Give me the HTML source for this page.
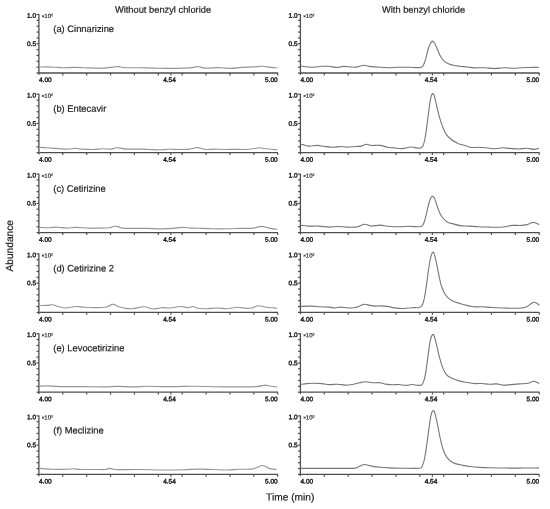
<!DOCTYPE html>
<html><head><meta charset="utf-8"><title>Chromatograms</title>
<style>
html,body{margin:0;padding:0;background:#fff;}
body{width:550px;height:509px;overflow:hidden;}
svg{display:block;}
text{font-family:"Liberation Sans",Arial,sans-serif;fill:#222;}
.ax{stroke:#4e4e4e;stroke-width:1.3;fill:none;}
.tk{stroke:#4e4e4e;stroke-width:1.2;fill:none;}
.sg{stroke:#767676;stroke-width:1.1;fill:none;stroke-linejoin:round;}
.sgl{stroke:#959595;stroke-width:1.15;fill:none;stroke-linejoin:round;}
.tl{font-size:6.5px;stroke:#222;stroke-width:0.4px;}
.ex{font-size:6px;fill:#333;stroke:#333;stroke-width:0.22px;}
.xm{font-size:3.6px;stroke-width:0.5px;}
.sup{font-size:3.6px;}
.pl{font-size:9.35px;stroke:#222;stroke-width:0.2px;}
.tt{font-size:9.3px;stroke:#222;stroke-width:0.2px;}
.al{font-size:10.2px;stroke:#222;stroke-width:0.2px;}
</style></head>
<body>
<svg width="550" height="509" viewBox="0 0 550 509">
<rect width="550" height="509" fill="#fff"/>
<text class="tt" x="163" y="12.8" text-anchor="middle" transform="rotate(0.03 163.00 12.80)">Without benzyl chloride</text>
<text class="tt" x="423.6" y="12.8" text-anchor="middle" transform="rotate(0.03 423.60 12.80)">With benzyl chloride</text>
<text class="al" transform="translate(13.0 245.8) rotate(-89.97)" text-anchor="middle">Abundance</text>
<text class="al" x="290.2" y="500.5" text-anchor="middle" transform="rotate(0.03 290.20 500.50)">Time (min)</text>
<line x1="38.90" y1="14.10" x2="38.90" y2="74.80" class="ax"/>
<line x1="38.40" y1="73.00" x2="278.00" y2="73.00" class="ax"/>
<line x1="36.50" y1="73.00" x2="38.90" y2="73.00" class="tk"/>
<line x1="36.50" y1="67.15" x2="38.90" y2="67.15" class="tk"/>
<line x1="36.50" y1="61.30" x2="38.90" y2="61.30" class="tk"/>
<line x1="36.50" y1="55.45" x2="38.90" y2="55.45" class="tk"/>
<line x1="36.50" y1="49.60" x2="38.90" y2="49.60" class="tk"/>
<line x1="36.50" y1="43.75" x2="38.90" y2="43.75" class="tk"/>
<line x1="36.50" y1="37.90" x2="38.90" y2="37.90" class="tk"/>
<line x1="36.50" y1="32.05" x2="38.90" y2="32.05" class="tk"/>
<line x1="36.50" y1="26.20" x2="38.90" y2="26.20" class="tk"/>
<line x1="36.50" y1="20.35" x2="38.90" y2="20.35" class="tk"/>
<line x1="36.50" y1="14.50" x2="38.90" y2="14.50" class="tk"/>
<line x1="62.78" y1="73.00" x2="62.78" y2="75.40" class="tk"/>
<line x1="86.66" y1="73.00" x2="86.66" y2="75.40" class="tk"/>
<line x1="110.54" y1="73.00" x2="110.54" y2="75.40" class="tk"/>
<line x1="134.42" y1="73.00" x2="134.42" y2="75.40" class="tk"/>
<line x1="158.30" y1="73.00" x2="158.30" y2="75.40" class="tk"/>
<line x1="182.18" y1="73.00" x2="182.18" y2="75.40" class="tk"/>
<line x1="206.06" y1="73.00" x2="206.06" y2="75.40" class="tk"/>
<line x1="229.94" y1="73.00" x2="229.94" y2="75.40" class="tk"/>
<line x1="253.82" y1="73.00" x2="253.82" y2="75.40" class="tk"/>
<line x1="277.70" y1="73.00" x2="277.70" y2="75.40" class="tk"/>
<line x1="170.90" y1="73.00" x2="170.90" y2="75.40" class="tk"/>
<text x="36.10" y="17.80" class="tl" text-anchor="end" transform="rotate(0.03 36.10 17.80)">1.0</text>
<text x="36.10" y="45.95" class="tl" text-anchor="end" transform="rotate(0.03 36.10 45.95)">0.5</text>
<text x="41.90" y="17.40" class="ex xm" transform="rotate(0.03 41.90 17.40)">&#215;</text>
<text x="44.30" y="18.10" class="ex" transform="rotate(0.03 44.30 18.10)">10<tspan class="sup" dy="-1.8">2</tspan></text>
<text x="39.00" y="82.10" class="tl" transform="rotate(0.03 39.00 82.10)">4.00</text>
<text x="169.50" y="82.10" class="tl" text-anchor="middle" transform="rotate(0.03 169.50 82.10)">4.54</text>
<text x="277.70" y="82.10" class="tl" text-anchor="end" transform="rotate(0.03 277.70 82.10)">5.00</text>
<text x="53.3" y="32.10" class="pl" transform="rotate(0.03 53.30 32.10)">(a) Cinnarizine</text>
<line x1="300.40" y1="14.10" x2="300.40" y2="74.80" class="ax"/>
<line x1="299.90" y1="73.00" x2="539.50" y2="73.00" class="ax"/>
<line x1="298.00" y1="73.00" x2="300.40" y2="73.00" class="tk"/>
<line x1="298.00" y1="67.15" x2="300.40" y2="67.15" class="tk"/>
<line x1="298.00" y1="61.30" x2="300.40" y2="61.30" class="tk"/>
<line x1="298.00" y1="55.45" x2="300.40" y2="55.45" class="tk"/>
<line x1="298.00" y1="49.60" x2="300.40" y2="49.60" class="tk"/>
<line x1="298.00" y1="43.75" x2="300.40" y2="43.75" class="tk"/>
<line x1="298.00" y1="37.90" x2="300.40" y2="37.90" class="tk"/>
<line x1="298.00" y1="32.05" x2="300.40" y2="32.05" class="tk"/>
<line x1="298.00" y1="26.20" x2="300.40" y2="26.20" class="tk"/>
<line x1="298.00" y1="20.35" x2="300.40" y2="20.35" class="tk"/>
<line x1="298.00" y1="14.50" x2="300.40" y2="14.50" class="tk"/>
<line x1="324.28" y1="73.00" x2="324.28" y2="75.40" class="tk"/>
<line x1="348.16" y1="73.00" x2="348.16" y2="75.40" class="tk"/>
<line x1="372.04" y1="73.00" x2="372.04" y2="75.40" class="tk"/>
<line x1="395.92" y1="73.00" x2="395.92" y2="75.40" class="tk"/>
<line x1="419.80" y1="73.00" x2="419.80" y2="75.40" class="tk"/>
<line x1="443.68" y1="73.00" x2="443.68" y2="75.40" class="tk"/>
<line x1="467.56" y1="73.00" x2="467.56" y2="75.40" class="tk"/>
<line x1="491.44" y1="73.00" x2="491.44" y2="75.40" class="tk"/>
<line x1="515.32" y1="73.00" x2="515.32" y2="75.40" class="tk"/>
<line x1="539.20" y1="73.00" x2="539.20" y2="75.40" class="tk"/>
<line x1="432.40" y1="73.00" x2="432.40" y2="75.40" class="tk"/>
<text x="297.60" y="17.80" class="tl" text-anchor="end" transform="rotate(0.03 297.60 17.80)">1.0</text>
<text x="297.60" y="45.95" class="tl" text-anchor="end" transform="rotate(0.03 297.60 45.95)">0.5</text>
<text x="303.40" y="17.40" class="ex xm" transform="rotate(0.03 303.40 17.40)">&#215;</text>
<text x="305.80" y="18.10" class="ex" transform="rotate(0.03 305.80 18.10)">10<tspan class="sup" dy="-1.8">2</tspan></text>
<text x="300.50" y="82.10" class="tl" transform="rotate(0.03 300.50 82.10)">4.00</text>
<text x="431.00" y="82.10" class="tl" text-anchor="middle" transform="rotate(0.03 431.00 82.10)">4.54</text>
<text x="539.20" y="82.10" class="tl" text-anchor="end" transform="rotate(0.03 539.20 82.10)">5.00</text>
<path class="sgl" d="M39.50 67.10 C40.70 67.07 44.03 66.88 46.70 66.90 C49.37 66.92 52.83 67.07 55.50 67.20 C58.17 67.33 59.55 67.67 62.70 67.70 C65.85 67.73 70.77 67.40 74.40 67.40 C78.03 67.40 80.87 67.58 84.50 67.70 C88.13 67.82 93.03 68.03 96.20 68.10 C99.37 68.17 100.60 68.27 103.50 68.10 C106.40 67.93 111.18 67.35 113.60 67.10 C116.02 66.85 116.05 66.50 118.00 66.60 C119.95 66.70 121.67 67.50 125.30 67.70 C128.93 67.90 134.95 67.73 139.80 67.80 C144.65 67.87 149.55 68.00 154.40 68.10 C159.25 68.20 164.05 68.40 168.90 68.40 C173.75 68.40 179.38 68.27 183.50 68.10 C187.62 67.93 191.18 67.67 193.60 67.40 C196.02 67.13 196.05 66.38 198.00 66.50 C199.95 66.62 201.67 67.90 205.30 68.10 C208.93 68.30 215.43 67.65 219.80 67.70 C224.17 67.75 227.87 68.45 231.50 68.40 C235.13 68.35 237.97 67.65 241.60 67.40 C245.23 67.15 249.90 67.08 253.30 66.90 C256.70 66.72 259.10 66.22 262.00 66.30 C264.90 66.38 268.15 67.15 270.70 67.40 C273.25 67.65 276.20 67.73 277.30 67.80"/>
<path class="sg" d="M300.50 66.00 C302.35 66.20 308.05 67.15 311.60 67.20 C315.15 67.25 318.90 66.45 321.80 66.30 C324.70 66.15 326.47 66.10 329.00 66.30 C331.53 66.50 334.57 67.48 337.00 67.50 C339.43 67.52 340.80 66.45 343.60 66.40 C346.40 66.35 351.13 67.22 353.80 67.20 C356.47 67.18 357.90 66.62 359.60 66.30 C361.30 65.98 362.30 65.28 364.00 65.30 C365.70 65.32 367.13 66.07 369.80 66.40 C372.47 66.73 376.85 67.08 380.00 67.30 C383.15 67.52 385.78 67.70 388.70 67.70 C391.62 67.70 394.10 67.37 397.50 67.30 C400.90 67.23 405.95 67.25 409.10 67.30 C412.25 67.35 414.33 67.60 416.40 67.60 C418.47 67.60 420.30 67.77 421.50 67.30 C422.70 66.83 422.88 66.30 423.60 64.80 C424.32 63.30 425.07 60.85 425.80 58.30 C426.53 55.75 427.27 51.93 428.00 49.50 C428.73 47.07 429.47 45.10 430.20 43.70 C430.93 42.30 431.68 41.22 432.40 41.10 C433.12 40.98 433.65 41.60 434.50 43.00 C435.35 44.40 436.52 47.32 437.50 49.50 C438.48 51.68 439.32 54.15 440.40 56.10 C441.48 58.05 442.67 59.92 444.00 61.20 C445.33 62.48 446.70 63.08 448.40 63.80 C450.10 64.52 452.27 65.08 454.20 65.50 C456.13 65.92 457.82 66.05 460.00 66.30 C462.18 66.55 464.88 66.73 467.30 67.00 C469.72 67.27 471.60 67.78 474.50 67.90 C477.40 68.02 481.30 67.58 484.70 67.70 C488.10 67.82 491.75 68.60 494.90 68.60 C498.05 68.60 500.45 67.77 503.60 67.70 C506.75 67.63 510.88 68.20 513.80 68.20 C516.72 68.20 518.43 67.82 521.10 67.70 C523.77 67.58 526.82 67.58 529.80 67.50 C532.78 67.42 537.47 67.25 539.00 67.20"/>
<line x1="38.90" y1="93.80" x2="38.90" y2="154.50" class="ax"/>
<line x1="38.40" y1="152.70" x2="278.00" y2="152.70" class="ax"/>
<line x1="36.50" y1="152.70" x2="38.90" y2="152.70" class="tk"/>
<line x1="36.50" y1="146.85" x2="38.90" y2="146.85" class="tk"/>
<line x1="36.50" y1="141.00" x2="38.90" y2="141.00" class="tk"/>
<line x1="36.50" y1="135.15" x2="38.90" y2="135.15" class="tk"/>
<line x1="36.50" y1="129.30" x2="38.90" y2="129.30" class="tk"/>
<line x1="36.50" y1="123.45" x2="38.90" y2="123.45" class="tk"/>
<line x1="36.50" y1="117.60" x2="38.90" y2="117.60" class="tk"/>
<line x1="36.50" y1="111.75" x2="38.90" y2="111.75" class="tk"/>
<line x1="36.50" y1="105.90" x2="38.90" y2="105.90" class="tk"/>
<line x1="36.50" y1="100.05" x2="38.90" y2="100.05" class="tk"/>
<line x1="36.50" y1="94.20" x2="38.90" y2="94.20" class="tk"/>
<line x1="62.78" y1="152.70" x2="62.78" y2="155.10" class="tk"/>
<line x1="86.66" y1="152.70" x2="86.66" y2="155.10" class="tk"/>
<line x1="110.54" y1="152.70" x2="110.54" y2="155.10" class="tk"/>
<line x1="134.42" y1="152.70" x2="134.42" y2="155.10" class="tk"/>
<line x1="158.30" y1="152.70" x2="158.30" y2="155.10" class="tk"/>
<line x1="182.18" y1="152.70" x2="182.18" y2="155.10" class="tk"/>
<line x1="206.06" y1="152.70" x2="206.06" y2="155.10" class="tk"/>
<line x1="229.94" y1="152.70" x2="229.94" y2="155.10" class="tk"/>
<line x1="253.82" y1="152.70" x2="253.82" y2="155.10" class="tk"/>
<line x1="277.70" y1="152.70" x2="277.70" y2="155.10" class="tk"/>
<line x1="170.90" y1="152.70" x2="170.90" y2="155.10" class="tk"/>
<text x="36.10" y="97.50" class="tl" text-anchor="end" transform="rotate(0.03 36.10 97.50)">1.0</text>
<text x="36.10" y="125.65" class="tl" text-anchor="end" transform="rotate(0.03 36.10 125.65)">0.5</text>
<text x="41.90" y="97.10" class="ex xm" transform="rotate(0.03 41.90 97.10)">&#215;</text>
<text x="44.30" y="97.80" class="ex" transform="rotate(0.03 44.30 97.80)">10<tspan class="sup" dy="-1.8">2</tspan></text>
<text x="39.00" y="161.80" class="tl" transform="rotate(0.03 39.00 161.80)">4.00</text>
<text x="169.50" y="161.80" class="tl" text-anchor="middle" transform="rotate(0.03 169.50 161.80)">4.54</text>
<text x="277.70" y="161.80" class="tl" text-anchor="end" transform="rotate(0.03 277.70 161.80)">5.00</text>
<text x="53.3" y="111.80" class="pl" transform="rotate(0.03 53.30 111.80)">(b) Entecavir</text>
<line x1="300.40" y1="93.80" x2="300.40" y2="154.50" class="ax"/>
<line x1="299.90" y1="152.70" x2="539.50" y2="152.70" class="ax"/>
<line x1="298.00" y1="152.70" x2="300.40" y2="152.70" class="tk"/>
<line x1="298.00" y1="146.85" x2="300.40" y2="146.85" class="tk"/>
<line x1="298.00" y1="141.00" x2="300.40" y2="141.00" class="tk"/>
<line x1="298.00" y1="135.15" x2="300.40" y2="135.15" class="tk"/>
<line x1="298.00" y1="129.30" x2="300.40" y2="129.30" class="tk"/>
<line x1="298.00" y1="123.45" x2="300.40" y2="123.45" class="tk"/>
<line x1="298.00" y1="117.60" x2="300.40" y2="117.60" class="tk"/>
<line x1="298.00" y1="111.75" x2="300.40" y2="111.75" class="tk"/>
<line x1="298.00" y1="105.90" x2="300.40" y2="105.90" class="tk"/>
<line x1="298.00" y1="100.05" x2="300.40" y2="100.05" class="tk"/>
<line x1="298.00" y1="94.20" x2="300.40" y2="94.20" class="tk"/>
<line x1="324.28" y1="152.70" x2="324.28" y2="155.10" class="tk"/>
<line x1="348.16" y1="152.70" x2="348.16" y2="155.10" class="tk"/>
<line x1="372.04" y1="152.70" x2="372.04" y2="155.10" class="tk"/>
<line x1="395.92" y1="152.70" x2="395.92" y2="155.10" class="tk"/>
<line x1="419.80" y1="152.70" x2="419.80" y2="155.10" class="tk"/>
<line x1="443.68" y1="152.70" x2="443.68" y2="155.10" class="tk"/>
<line x1="467.56" y1="152.70" x2="467.56" y2="155.10" class="tk"/>
<line x1="491.44" y1="152.70" x2="491.44" y2="155.10" class="tk"/>
<line x1="515.32" y1="152.70" x2="515.32" y2="155.10" class="tk"/>
<line x1="539.20" y1="152.70" x2="539.20" y2="155.10" class="tk"/>
<line x1="432.40" y1="152.70" x2="432.40" y2="155.10" class="tk"/>
<text x="297.60" y="97.50" class="tl" text-anchor="end" transform="rotate(0.03 297.60 97.50)">1.0</text>
<text x="297.60" y="125.65" class="tl" text-anchor="end" transform="rotate(0.03 297.60 125.65)">0.5</text>
<text x="303.40" y="97.10" class="ex xm" transform="rotate(0.03 303.40 97.10)">&#215;</text>
<text x="305.80" y="97.80" class="ex" transform="rotate(0.03 305.80 97.80)">10<tspan class="sup" dy="-1.8">2</tspan></text>
<text x="300.50" y="161.80" class="tl" transform="rotate(0.03 300.50 161.80)">4.00</text>
<text x="431.00" y="161.80" class="tl" text-anchor="middle" transform="rotate(0.03 431.00 161.80)">4.54</text>
<text x="539.20" y="161.80" class="tl" text-anchor="end" transform="rotate(0.03 539.20 161.80)">5.00</text>
<path class="sgl" d="M39.50 147.40 C40.70 147.47 44.03 147.63 46.70 147.80 C49.37 147.97 52.10 148.18 55.50 148.40 C58.90 148.62 63.72 149.10 67.10 149.10 C70.48 149.10 73.38 148.40 75.80 148.40 C78.22 148.40 78.68 148.92 81.60 149.10 C84.52 149.28 89.90 149.55 93.30 149.50 C96.70 149.45 99.10 148.87 102.00 148.80 C104.90 148.73 108.28 149.27 110.70 149.10 C113.12 148.93 115.28 148.02 116.50 147.80 C117.72 147.58 116.30 147.58 118.00 147.80 C119.70 148.02 123.07 148.88 126.70 149.10 C130.33 149.32 135.92 149.03 139.80 149.10 C143.68 149.17 146.85 149.38 150.00 149.50 C153.15 149.62 155.55 149.83 158.70 149.80 C161.85 149.77 165.50 149.35 168.90 149.30 C172.30 149.25 175.70 149.53 179.10 149.50 C182.50 149.47 186.63 149.38 189.30 149.10 C191.97 148.82 193.65 148.05 195.10 147.80 C196.55 147.55 196.30 147.32 198.00 147.60 C199.70 147.88 202.63 149.25 205.30 149.50 C207.97 149.75 210.85 149.10 214.00 149.10 C217.15 149.10 220.80 149.47 224.20 149.50 C227.60 149.53 231.02 149.30 234.40 149.30 C237.78 149.30 241.35 149.58 244.50 149.50 C247.65 149.42 250.87 149.10 253.30 148.80 C255.73 148.50 256.92 147.70 259.10 147.70 C261.28 147.70 263.37 148.45 266.40 148.80 C269.43 149.15 275.48 149.63 277.30 149.80"/>
<path class="sg" d="M300.50 144.90 C300.90 144.85 301.53 144.40 302.90 144.60 C304.27 144.80 306.27 145.97 308.70 146.10 C311.13 146.23 314.83 145.33 317.50 145.40 C320.17 145.47 322.03 146.18 324.70 146.50 C327.37 146.82 330.83 147.30 333.50 147.30 C336.17 147.30 338.53 146.53 340.70 146.50 C342.87 146.47 344.07 147.10 346.50 147.10 C348.93 147.10 352.87 146.67 355.30 146.50 C357.73 146.33 359.28 146.48 361.10 146.10 C362.92 145.72 364.50 144.32 366.20 144.20 C367.90 144.08 369.00 145.20 371.30 145.40 C373.60 145.60 377.33 145.10 380.00 145.40 C382.67 145.70 384.88 146.78 387.30 147.20 C389.72 147.62 392.08 147.67 394.50 147.90 C396.92 148.13 399.13 148.75 401.80 148.60 C404.47 148.45 408.32 147.17 410.50 147.00 C412.68 146.83 413.32 147.40 414.90 147.60 C416.48 147.80 418.67 148.47 420.00 148.20 C421.33 147.93 422.05 147.70 422.90 146.00 C423.75 144.30 424.45 141.27 425.10 138.00 C425.75 134.73 426.20 130.77 426.80 126.40 C427.40 122.03 428.07 116.42 428.70 111.80 C429.33 107.18 429.93 101.73 430.60 98.70 C431.27 95.67 432.05 93.97 432.70 93.60 C433.35 93.23 433.83 94.43 434.50 96.50 C435.17 98.57 435.85 102.48 436.70 106.00 C437.55 109.52 438.63 114.20 439.60 117.60 C440.57 121.00 441.40 123.60 442.50 126.40 C443.60 129.20 444.73 132.22 446.20 134.40 C447.67 136.58 449.48 138.05 451.30 139.50 C453.12 140.95 455.65 142.32 457.10 143.10 C458.55 143.88 458.55 143.75 460.00 144.20 C461.45 144.65 463.87 145.25 465.80 145.80 C467.73 146.35 469.42 147.25 471.60 147.50 C473.78 147.75 476.47 147.25 478.90 147.30 C481.33 147.35 483.53 147.57 486.20 147.80 C488.87 148.03 492.23 148.70 494.90 148.70 C497.57 148.70 499.77 147.85 502.20 147.80 C504.63 147.75 506.83 148.20 509.50 148.40 C512.17 148.60 515.30 149.02 518.20 149.00 C521.10 148.98 524.23 148.23 526.90 148.30 C529.57 148.37 532.18 149.40 534.20 149.40 C536.22 149.40 538.20 148.48 539.00 148.30"/>
<line x1="38.90" y1="173.70" x2="38.90" y2="234.40" class="ax"/>
<line x1="38.40" y1="232.60" x2="278.00" y2="232.60" class="ax"/>
<line x1="36.50" y1="232.60" x2="38.90" y2="232.60" class="tk"/>
<line x1="36.50" y1="226.75" x2="38.90" y2="226.75" class="tk"/>
<line x1="36.50" y1="220.90" x2="38.90" y2="220.90" class="tk"/>
<line x1="36.50" y1="215.05" x2="38.90" y2="215.05" class="tk"/>
<line x1="36.50" y1="209.20" x2="38.90" y2="209.20" class="tk"/>
<line x1="36.50" y1="203.35" x2="38.90" y2="203.35" class="tk"/>
<line x1="36.50" y1="197.50" x2="38.90" y2="197.50" class="tk"/>
<line x1="36.50" y1="191.65" x2="38.90" y2="191.65" class="tk"/>
<line x1="36.50" y1="185.80" x2="38.90" y2="185.80" class="tk"/>
<line x1="36.50" y1="179.95" x2="38.90" y2="179.95" class="tk"/>
<line x1="36.50" y1="174.10" x2="38.90" y2="174.10" class="tk"/>
<line x1="62.78" y1="232.60" x2="62.78" y2="235.00" class="tk"/>
<line x1="86.66" y1="232.60" x2="86.66" y2="235.00" class="tk"/>
<line x1="110.54" y1="232.60" x2="110.54" y2="235.00" class="tk"/>
<line x1="134.42" y1="232.60" x2="134.42" y2="235.00" class="tk"/>
<line x1="158.30" y1="232.60" x2="158.30" y2="235.00" class="tk"/>
<line x1="182.18" y1="232.60" x2="182.18" y2="235.00" class="tk"/>
<line x1="206.06" y1="232.60" x2="206.06" y2="235.00" class="tk"/>
<line x1="229.94" y1="232.60" x2="229.94" y2="235.00" class="tk"/>
<line x1="253.82" y1="232.60" x2="253.82" y2="235.00" class="tk"/>
<line x1="277.70" y1="232.60" x2="277.70" y2="235.00" class="tk"/>
<line x1="170.90" y1="232.60" x2="170.90" y2="235.00" class="tk"/>
<text x="36.10" y="177.40" class="tl" text-anchor="end" transform="rotate(0.03 36.10 177.40)">1.0</text>
<text x="36.10" y="205.55" class="tl" text-anchor="end" transform="rotate(0.03 36.10 205.55)">0.5</text>
<text x="41.90" y="177.00" class="ex xm" transform="rotate(0.03 41.90 177.00)">&#215;</text>
<text x="44.30" y="177.70" class="ex" transform="rotate(0.03 44.30 177.70)">10<tspan class="sup" dy="-1.8">2</tspan></text>
<text x="39.00" y="241.70" class="tl" transform="rotate(0.03 39.00 241.70)">4.00</text>
<text x="169.50" y="241.70" class="tl" text-anchor="middle" transform="rotate(0.03 169.50 241.70)">4.54</text>
<text x="277.70" y="241.70" class="tl" text-anchor="end" transform="rotate(0.03 277.70 241.70)">5.00</text>
<text x="53.3" y="191.70" class="pl" transform="rotate(0.03 53.30 191.70)">(c) Cetirizine</text>
<line x1="300.40" y1="173.70" x2="300.40" y2="234.40" class="ax"/>
<line x1="299.90" y1="232.60" x2="539.50" y2="232.60" class="ax"/>
<line x1="298.00" y1="232.60" x2="300.40" y2="232.60" class="tk"/>
<line x1="298.00" y1="226.75" x2="300.40" y2="226.75" class="tk"/>
<line x1="298.00" y1="220.90" x2="300.40" y2="220.90" class="tk"/>
<line x1="298.00" y1="215.05" x2="300.40" y2="215.05" class="tk"/>
<line x1="298.00" y1="209.20" x2="300.40" y2="209.20" class="tk"/>
<line x1="298.00" y1="203.35" x2="300.40" y2="203.35" class="tk"/>
<line x1="298.00" y1="197.50" x2="300.40" y2="197.50" class="tk"/>
<line x1="298.00" y1="191.65" x2="300.40" y2="191.65" class="tk"/>
<line x1="298.00" y1="185.80" x2="300.40" y2="185.80" class="tk"/>
<line x1="298.00" y1="179.95" x2="300.40" y2="179.95" class="tk"/>
<line x1="298.00" y1="174.10" x2="300.40" y2="174.10" class="tk"/>
<line x1="324.28" y1="232.60" x2="324.28" y2="235.00" class="tk"/>
<line x1="348.16" y1="232.60" x2="348.16" y2="235.00" class="tk"/>
<line x1="372.04" y1="232.60" x2="372.04" y2="235.00" class="tk"/>
<line x1="395.92" y1="232.60" x2="395.92" y2="235.00" class="tk"/>
<line x1="419.80" y1="232.60" x2="419.80" y2="235.00" class="tk"/>
<line x1="443.68" y1="232.60" x2="443.68" y2="235.00" class="tk"/>
<line x1="467.56" y1="232.60" x2="467.56" y2="235.00" class="tk"/>
<line x1="491.44" y1="232.60" x2="491.44" y2="235.00" class="tk"/>
<line x1="515.32" y1="232.60" x2="515.32" y2="235.00" class="tk"/>
<line x1="539.20" y1="232.60" x2="539.20" y2="235.00" class="tk"/>
<line x1="432.40" y1="232.60" x2="432.40" y2="235.00" class="tk"/>
<text x="297.60" y="177.40" class="tl" text-anchor="end" transform="rotate(0.03 297.60 177.40)">1.0</text>
<text x="297.60" y="205.55" class="tl" text-anchor="end" transform="rotate(0.03 297.60 205.55)">0.5</text>
<text x="303.40" y="177.00" class="ex xm" transform="rotate(0.03 303.40 177.00)">&#215;</text>
<text x="305.80" y="177.70" class="ex" transform="rotate(0.03 305.80 177.70)">10<tspan class="sup" dy="-1.8">2</tspan></text>
<text x="300.50" y="241.70" class="tl" transform="rotate(0.03 300.50 241.70)">4.00</text>
<text x="431.00" y="241.70" class="tl" text-anchor="middle" transform="rotate(0.03 431.00 241.70)">4.54</text>
<text x="539.20" y="241.70" class="tl" text-anchor="end" transform="rotate(0.03 539.20 241.70)">5.00</text>
<path class="sgl" d="M39.50 227.40 C41.18 227.45 46.70 227.73 49.60 227.70 C52.50 227.67 53.98 227.13 56.90 227.20 C59.82 227.27 63.95 228.07 67.10 228.10 C70.25 228.13 72.17 227.40 75.80 227.40 C79.43 227.40 85.02 227.98 88.90 228.10 C92.78 228.22 95.70 228.15 99.10 228.10 C102.50 228.05 106.88 228.10 109.30 227.80 C111.72 227.50 112.15 226.50 113.60 226.30 C115.05 226.10 116.53 226.30 118.00 226.60 C119.47 226.90 119.98 227.80 122.40 228.10 C124.82 228.40 128.38 228.35 132.50 228.40 C136.62 228.45 142.25 228.33 147.10 228.40 C151.95 228.47 157.23 228.80 161.60 228.80 C165.97 228.80 169.90 228.63 173.30 228.40 C176.70 228.17 179.10 227.45 182.00 227.40 C184.90 227.35 188.03 227.97 190.70 228.10 C193.37 228.23 194.37 228.08 198.00 228.20 C201.63 228.32 207.65 228.70 212.50 228.80 C217.35 228.90 222.25 228.87 227.10 228.80 C231.95 228.73 237.23 228.52 241.60 228.40 C245.97 228.28 250.02 228.45 253.30 228.10 C256.58 227.75 258.63 226.30 261.30 226.30 C263.97 226.30 266.63 227.60 269.30 228.10 C271.97 228.60 275.97 229.10 277.30 229.30"/>
<path class="sg" d="M300.50 225.40 C301.87 225.52 305.63 225.98 308.70 226.10 C311.77 226.22 315.50 225.93 318.90 226.10 C322.30 226.27 325.95 227.03 329.10 227.10 C332.25 227.17 334.90 226.50 337.80 226.50 C340.70 226.50 343.58 227.00 346.50 227.10 C349.42 227.20 353.12 227.27 355.30 227.10 C357.48 226.93 358.03 226.57 359.60 226.10 C361.17 225.63 362.75 224.30 364.70 224.30 C366.65 224.30 368.75 225.97 371.30 226.10 C373.85 226.23 377.10 225.07 380.00 225.10 C382.90 225.13 385.55 226.02 388.70 226.30 C391.85 226.58 395.50 226.80 398.90 226.80 C402.30 226.80 405.70 226.30 409.10 226.30 C412.50 226.30 417.12 226.88 419.30 226.80 C421.48 226.72 421.35 226.68 422.20 225.80 C423.05 224.92 423.68 223.55 424.40 221.50 C425.12 219.45 425.78 216.42 426.50 213.50 C427.22 210.58 428.02 206.55 428.70 204.00 C429.38 201.45 429.98 199.48 430.60 198.20 C431.22 196.92 431.75 196.30 432.40 196.30 C433.05 196.30 433.78 196.80 434.50 198.20 C435.22 199.60 435.85 202.28 436.70 204.70 C437.55 207.12 438.50 210.40 439.60 212.70 C440.70 215.00 441.97 216.92 443.30 218.50 C444.63 220.08 445.78 221.27 447.60 222.20 C449.42 223.13 452.13 223.53 454.20 224.10 C456.27 224.67 457.58 225.27 460.00 225.60 C462.42 225.93 465.55 225.90 468.70 226.10 C471.85 226.30 475.50 226.63 478.90 226.80 C482.30 226.97 485.47 227.02 489.10 227.10 C492.73 227.18 497.80 227.40 500.70 227.30 C503.60 227.20 504.55 226.82 506.50 226.50 C508.45 226.18 509.97 225.58 512.40 225.40 C514.83 225.22 518.68 225.53 521.10 225.40 C523.52 225.27 524.97 225.08 526.90 224.60 C528.83 224.12 531.25 222.78 532.70 222.50 C534.15 222.22 534.50 222.55 535.60 222.90 C536.70 223.25 538.68 224.32 539.30 224.60"/>
<line x1="38.90" y1="253.50" x2="38.90" y2="314.20" class="ax"/>
<line x1="38.40" y1="312.40" x2="278.00" y2="312.40" class="ax"/>
<line x1="36.50" y1="312.40" x2="38.90" y2="312.40" class="tk"/>
<line x1="36.50" y1="306.55" x2="38.90" y2="306.55" class="tk"/>
<line x1="36.50" y1="300.70" x2="38.90" y2="300.70" class="tk"/>
<line x1="36.50" y1="294.85" x2="38.90" y2="294.85" class="tk"/>
<line x1="36.50" y1="289.00" x2="38.90" y2="289.00" class="tk"/>
<line x1="36.50" y1="283.15" x2="38.90" y2="283.15" class="tk"/>
<line x1="36.50" y1="277.30" x2="38.90" y2="277.30" class="tk"/>
<line x1="36.50" y1="271.45" x2="38.90" y2="271.45" class="tk"/>
<line x1="36.50" y1="265.60" x2="38.90" y2="265.60" class="tk"/>
<line x1="36.50" y1="259.75" x2="38.90" y2="259.75" class="tk"/>
<line x1="36.50" y1="253.90" x2="38.90" y2="253.90" class="tk"/>
<line x1="62.78" y1="312.40" x2="62.78" y2="314.80" class="tk"/>
<line x1="86.66" y1="312.40" x2="86.66" y2="314.80" class="tk"/>
<line x1="110.54" y1="312.40" x2="110.54" y2="314.80" class="tk"/>
<line x1="134.42" y1="312.40" x2="134.42" y2="314.80" class="tk"/>
<line x1="158.30" y1="312.40" x2="158.30" y2="314.80" class="tk"/>
<line x1="182.18" y1="312.40" x2="182.18" y2="314.80" class="tk"/>
<line x1="206.06" y1="312.40" x2="206.06" y2="314.80" class="tk"/>
<line x1="229.94" y1="312.40" x2="229.94" y2="314.80" class="tk"/>
<line x1="253.82" y1="312.40" x2="253.82" y2="314.80" class="tk"/>
<line x1="277.70" y1="312.40" x2="277.70" y2="314.80" class="tk"/>
<line x1="170.90" y1="312.40" x2="170.90" y2="314.80" class="tk"/>
<text x="36.10" y="257.20" class="tl" text-anchor="end" transform="rotate(0.03 36.10 257.20)">1.0</text>
<text x="36.10" y="285.35" class="tl" text-anchor="end" transform="rotate(0.03 36.10 285.35)">0.5</text>
<text x="41.90" y="256.80" class="ex xm" transform="rotate(0.03 41.90 256.80)">&#215;</text>
<text x="44.30" y="257.50" class="ex" transform="rotate(0.03 44.30 257.50)">10<tspan class="sup" dy="-1.8">2</tspan></text>
<text x="39.00" y="321.50" class="tl" transform="rotate(0.03 39.00 321.50)">4.00</text>
<text x="169.50" y="321.50" class="tl" text-anchor="middle" transform="rotate(0.03 169.50 321.50)">4.54</text>
<text x="277.70" y="321.50" class="tl" text-anchor="end" transform="rotate(0.03 277.70 321.50)">5.00</text>
<text x="53.3" y="271.50" class="pl" transform="rotate(0.03 53.30 271.50)">(d) Cetirizine 2</text>
<line x1="300.40" y1="253.50" x2="300.40" y2="314.20" class="ax"/>
<line x1="299.90" y1="312.40" x2="539.50" y2="312.40" class="ax"/>
<line x1="298.00" y1="312.40" x2="300.40" y2="312.40" class="tk"/>
<line x1="298.00" y1="306.55" x2="300.40" y2="306.55" class="tk"/>
<line x1="298.00" y1="300.70" x2="300.40" y2="300.70" class="tk"/>
<line x1="298.00" y1="294.85" x2="300.40" y2="294.85" class="tk"/>
<line x1="298.00" y1="289.00" x2="300.40" y2="289.00" class="tk"/>
<line x1="298.00" y1="283.15" x2="300.40" y2="283.15" class="tk"/>
<line x1="298.00" y1="277.30" x2="300.40" y2="277.30" class="tk"/>
<line x1="298.00" y1="271.45" x2="300.40" y2="271.45" class="tk"/>
<line x1="298.00" y1="265.60" x2="300.40" y2="265.60" class="tk"/>
<line x1="298.00" y1="259.75" x2="300.40" y2="259.75" class="tk"/>
<line x1="298.00" y1="253.90" x2="300.40" y2="253.90" class="tk"/>
<line x1="324.28" y1="312.40" x2="324.28" y2="314.80" class="tk"/>
<line x1="348.16" y1="312.40" x2="348.16" y2="314.80" class="tk"/>
<line x1="372.04" y1="312.40" x2="372.04" y2="314.80" class="tk"/>
<line x1="395.92" y1="312.40" x2="395.92" y2="314.80" class="tk"/>
<line x1="419.80" y1="312.40" x2="419.80" y2="314.80" class="tk"/>
<line x1="443.68" y1="312.40" x2="443.68" y2="314.80" class="tk"/>
<line x1="467.56" y1="312.40" x2="467.56" y2="314.80" class="tk"/>
<line x1="491.44" y1="312.40" x2="491.44" y2="314.80" class="tk"/>
<line x1="515.32" y1="312.40" x2="515.32" y2="314.80" class="tk"/>
<line x1="539.20" y1="312.40" x2="539.20" y2="314.80" class="tk"/>
<line x1="432.40" y1="312.40" x2="432.40" y2="314.80" class="tk"/>
<text x="297.60" y="257.20" class="tl" text-anchor="end" transform="rotate(0.03 297.60 257.20)">1.0</text>
<text x="297.60" y="285.35" class="tl" text-anchor="end" transform="rotate(0.03 297.60 285.35)">0.5</text>
<text x="303.40" y="256.80" class="ex xm" transform="rotate(0.03 303.40 256.80)">&#215;</text>
<text x="305.80" y="257.50" class="ex" transform="rotate(0.03 305.80 257.50)">10<tspan class="sup" dy="-1.8">2</tspan></text>
<text x="300.50" y="321.50" class="tl" transform="rotate(0.03 300.50 321.50)">4.00</text>
<text x="431.00" y="321.50" class="tl" text-anchor="middle" transform="rotate(0.03 431.00 321.50)">4.54</text>
<text x="539.20" y="321.50" class="tl" text-anchor="end" transform="rotate(0.03 539.20 321.50)">5.00</text>
<path class="sgl" d="M39.50 305.50 C40.70 305.48 44.53 305.52 46.70 305.40 C48.87 305.28 50.55 304.62 52.50 304.80 C54.45 304.98 56.22 305.97 58.40 306.50 C60.58 307.03 62.70 308.00 65.60 308.00 C68.50 308.00 72.65 306.62 75.80 306.50 C78.95 306.38 81.10 307.12 84.50 307.30 C87.90 307.48 92.55 307.65 96.20 307.60 C99.85 307.55 103.73 307.53 106.40 307.00 C109.07 306.47 110.75 304.77 112.20 304.40 C113.65 304.03 114.13 304.45 115.10 304.80 C116.07 305.15 116.30 305.92 118.00 306.50 C119.70 307.08 122.88 307.93 125.30 308.30 C127.72 308.67 129.35 308.95 132.50 308.70 C135.65 308.45 140.80 306.75 144.20 306.80 C147.60 306.85 150.00 308.85 152.90 309.00 C155.80 309.15 158.68 307.87 161.60 307.70 C164.52 307.53 167.25 308.20 170.40 308.00 C173.55 307.80 177.60 306.55 180.50 306.50 C183.40 306.45 185.73 307.70 187.80 307.70 C189.87 307.70 191.20 306.40 192.90 306.50 C194.60 306.60 195.70 307.93 198.00 308.30 C200.30 308.67 203.55 308.75 206.70 308.70 C209.85 308.65 213.50 308.00 216.90 308.00 C220.30 308.00 223.70 308.82 227.10 308.70 C230.50 308.58 234.15 307.37 237.30 307.30 C240.45 307.23 243.58 308.18 246.00 308.30 C248.42 308.42 249.73 308.42 251.80 308.00 C253.87 307.58 255.97 305.92 258.40 305.80 C260.83 305.68 263.25 306.88 266.40 307.30 C269.55 307.72 275.48 308.13 277.30 308.30"/>
<path class="sg" d="M300.50 306.50 C302.35 306.43 308.28 306.05 311.60 306.10 C314.92 306.15 317.48 306.63 320.40 306.80 C323.32 306.97 326.68 306.90 329.10 307.10 C331.52 307.30 332.97 308.00 334.90 308.00 C336.83 308.00 338.52 307.10 340.70 307.10 C342.88 307.10 345.57 307.93 348.00 308.00 C350.43 308.07 353.37 307.82 355.30 307.50 C357.23 307.18 358.15 306.63 359.60 306.10 C361.05 305.57 362.30 304.42 364.00 304.30 C365.70 304.18 367.87 305.10 369.80 305.40 C371.73 305.70 373.90 306.02 375.60 306.10 C377.30 306.18 378.05 305.85 380.00 305.90 C381.95 305.95 384.88 306.07 387.30 306.40 C389.72 306.73 391.83 307.55 394.50 307.90 C397.17 308.25 400.38 308.53 403.30 308.50 C406.22 308.47 409.33 307.87 412.00 307.70 C414.67 307.53 417.60 307.90 419.30 307.50 C421.00 307.10 421.35 306.88 422.20 305.30 C423.05 303.72 423.72 301.15 424.40 298.00 C425.08 294.85 425.70 290.52 426.30 286.40 C426.90 282.28 427.35 277.78 428.00 273.30 C428.65 268.82 429.47 262.95 430.20 259.50 C430.93 256.05 431.75 253.58 432.40 252.60 C433.05 251.62 433.50 252.22 434.10 253.60 C434.70 254.98 435.32 257.87 436.00 260.90 C436.68 263.93 437.35 267.80 438.20 271.80 C439.05 275.80 440.13 281.50 441.10 284.90 C442.07 288.30 442.92 290.13 444.00 292.20 C445.08 294.27 446.15 295.85 447.60 297.30 C449.05 298.75 450.63 299.87 452.70 300.90 C454.77 301.93 457.82 302.80 460.00 303.50 C462.18 304.20 463.62 304.55 465.80 305.10 C467.98 305.65 470.43 306.52 473.10 306.80 C475.77 307.08 478.65 306.68 481.80 306.80 C484.95 306.92 488.37 307.30 492.00 307.50 C495.63 307.70 500.20 307.87 503.60 308.00 C507.00 308.13 509.48 308.30 512.40 308.30 C515.32 308.30 518.80 308.20 521.10 308.00 C523.40 307.80 524.50 307.85 526.20 307.10 C527.90 306.35 529.97 304.32 531.30 303.50 C532.63 302.68 533.23 302.20 534.20 302.20 C535.17 302.20 536.25 302.97 537.10 303.50 C537.95 304.03 538.93 305.08 539.30 305.40"/>
<line x1="38.90" y1="333.30" x2="38.90" y2="394.00" class="ax"/>
<line x1="38.40" y1="392.20" x2="278.00" y2="392.20" class="ax"/>
<line x1="36.50" y1="392.20" x2="38.90" y2="392.20" class="tk"/>
<line x1="36.50" y1="386.35" x2="38.90" y2="386.35" class="tk"/>
<line x1="36.50" y1="380.50" x2="38.90" y2="380.50" class="tk"/>
<line x1="36.50" y1="374.65" x2="38.90" y2="374.65" class="tk"/>
<line x1="36.50" y1="368.80" x2="38.90" y2="368.80" class="tk"/>
<line x1="36.50" y1="362.95" x2="38.90" y2="362.95" class="tk"/>
<line x1="36.50" y1="357.10" x2="38.90" y2="357.10" class="tk"/>
<line x1="36.50" y1="351.25" x2="38.90" y2="351.25" class="tk"/>
<line x1="36.50" y1="345.40" x2="38.90" y2="345.40" class="tk"/>
<line x1="36.50" y1="339.55" x2="38.90" y2="339.55" class="tk"/>
<line x1="36.50" y1="333.70" x2="38.90" y2="333.70" class="tk"/>
<line x1="62.78" y1="392.20" x2="62.78" y2="394.60" class="tk"/>
<line x1="86.66" y1="392.20" x2="86.66" y2="394.60" class="tk"/>
<line x1="110.54" y1="392.20" x2="110.54" y2="394.60" class="tk"/>
<line x1="134.42" y1="392.20" x2="134.42" y2="394.60" class="tk"/>
<line x1="158.30" y1="392.20" x2="158.30" y2="394.60" class="tk"/>
<line x1="182.18" y1="392.20" x2="182.18" y2="394.60" class="tk"/>
<line x1="206.06" y1="392.20" x2="206.06" y2="394.60" class="tk"/>
<line x1="229.94" y1="392.20" x2="229.94" y2="394.60" class="tk"/>
<line x1="253.82" y1="392.20" x2="253.82" y2="394.60" class="tk"/>
<line x1="277.70" y1="392.20" x2="277.70" y2="394.60" class="tk"/>
<line x1="170.90" y1="392.20" x2="170.90" y2="394.60" class="tk"/>
<text x="36.10" y="337.00" class="tl" text-anchor="end" transform="rotate(0.03 36.10 337.00)">1.0</text>
<text x="36.10" y="365.15" class="tl" text-anchor="end" transform="rotate(0.03 36.10 365.15)">0.5</text>
<text x="41.90" y="336.60" class="ex xm" transform="rotate(0.03 41.90 336.60)">&#215;</text>
<text x="44.30" y="337.30" class="ex" transform="rotate(0.03 44.30 337.30)">10<tspan class="sup" dy="-1.8">2</tspan></text>
<text x="39.00" y="401.30" class="tl" transform="rotate(0.03 39.00 401.30)">4.00</text>
<text x="169.50" y="401.30" class="tl" text-anchor="middle" transform="rotate(0.03 169.50 401.30)">4.54</text>
<text x="277.70" y="401.30" class="tl" text-anchor="end" transform="rotate(0.03 277.70 401.30)">5.00</text>
<text x="53.3" y="351.30" class="pl" transform="rotate(0.03 53.30 351.30)">(e) Levocetirizine</text>
<line x1="300.40" y1="333.30" x2="300.40" y2="394.00" class="ax"/>
<line x1="299.90" y1="392.20" x2="539.50" y2="392.20" class="ax"/>
<line x1="298.00" y1="392.20" x2="300.40" y2="392.20" class="tk"/>
<line x1="298.00" y1="386.35" x2="300.40" y2="386.35" class="tk"/>
<line x1="298.00" y1="380.50" x2="300.40" y2="380.50" class="tk"/>
<line x1="298.00" y1="374.65" x2="300.40" y2="374.65" class="tk"/>
<line x1="298.00" y1="368.80" x2="300.40" y2="368.80" class="tk"/>
<line x1="298.00" y1="362.95" x2="300.40" y2="362.95" class="tk"/>
<line x1="298.00" y1="357.10" x2="300.40" y2="357.10" class="tk"/>
<line x1="298.00" y1="351.25" x2="300.40" y2="351.25" class="tk"/>
<line x1="298.00" y1="345.40" x2="300.40" y2="345.40" class="tk"/>
<line x1="298.00" y1="339.55" x2="300.40" y2="339.55" class="tk"/>
<line x1="298.00" y1="333.70" x2="300.40" y2="333.70" class="tk"/>
<line x1="324.28" y1="392.20" x2="324.28" y2="394.60" class="tk"/>
<line x1="348.16" y1="392.20" x2="348.16" y2="394.60" class="tk"/>
<line x1="372.04" y1="392.20" x2="372.04" y2="394.60" class="tk"/>
<line x1="395.92" y1="392.20" x2="395.92" y2="394.60" class="tk"/>
<line x1="419.80" y1="392.20" x2="419.80" y2="394.60" class="tk"/>
<line x1="443.68" y1="392.20" x2="443.68" y2="394.60" class="tk"/>
<line x1="467.56" y1="392.20" x2="467.56" y2="394.60" class="tk"/>
<line x1="491.44" y1="392.20" x2="491.44" y2="394.60" class="tk"/>
<line x1="515.32" y1="392.20" x2="515.32" y2="394.60" class="tk"/>
<line x1="539.20" y1="392.20" x2="539.20" y2="394.60" class="tk"/>
<line x1="432.40" y1="392.20" x2="432.40" y2="394.60" class="tk"/>
<text x="297.60" y="337.00" class="tl" text-anchor="end" transform="rotate(0.03 297.60 337.00)">1.0</text>
<text x="297.60" y="365.15" class="tl" text-anchor="end" transform="rotate(0.03 297.60 365.15)">0.5</text>
<text x="303.40" y="336.60" class="ex xm" transform="rotate(0.03 303.40 336.60)">&#215;</text>
<text x="305.80" y="337.30" class="ex" transform="rotate(0.03 305.80 337.30)">10<tspan class="sup" dy="-1.8">2</tspan></text>
<text x="300.50" y="401.30" class="tl" transform="rotate(0.03 300.50 401.30)">4.00</text>
<text x="431.00" y="401.30" class="tl" text-anchor="middle" transform="rotate(0.03 431.00 401.30)">4.54</text>
<text x="539.20" y="401.30" class="tl" text-anchor="end" transform="rotate(0.03 539.20 401.30)">5.00</text>
<path class="sgl" d="M39.50 386.30 C40.70 386.23 43.32 385.85 46.70 385.90 C50.08 385.95 53.98 386.48 59.80 386.60 C65.62 386.72 74.32 386.55 81.60 386.60 C88.88 386.65 97.43 386.93 103.50 386.90 C109.57 386.87 113.17 386.40 118.00 386.40 C122.83 386.40 127.65 386.92 132.50 386.90 C137.35 386.88 142.25 386.35 147.10 386.30 C151.95 386.25 156.75 386.55 161.60 386.60 C166.45 386.65 171.35 386.65 176.20 386.60 C181.05 386.55 187.07 386.35 190.70 386.30 C194.33 386.25 191.93 386.20 198.00 386.30 C204.07 386.40 217.40 386.85 227.10 386.90 C236.80 386.95 250.02 386.88 256.20 386.60 C262.38 386.32 261.78 385.25 264.20 385.20 C266.62 385.15 268.52 386.02 270.70 386.30 C272.88 386.58 276.20 386.80 277.30 386.90"/>
<path class="sg" d="M300.50 384.30 C301.63 384.18 304.97 383.78 307.30 383.60 C309.63 383.42 312.08 383.20 314.50 383.20 C316.92 383.20 319.37 383.37 321.80 383.60 C324.23 383.83 326.43 384.50 329.10 384.60 C331.77 384.70 335.13 384.12 337.80 384.20 C340.47 384.28 342.43 385.10 345.10 385.10 C347.77 385.10 351.38 384.60 353.80 384.20 C356.22 383.80 357.65 383.12 359.60 382.70 C361.55 382.28 363.32 381.70 365.50 381.70 C367.68 381.70 370.28 382.53 372.70 382.70 C375.12 382.87 377.82 382.47 380.00 382.70 C382.18 382.93 383.62 383.75 385.80 384.10 C387.98 384.45 390.92 384.73 393.10 384.80 C395.28 384.87 396.72 384.40 398.90 384.50 C401.08 384.60 404.02 385.40 406.20 385.40 C408.38 385.40 410.07 384.52 412.00 384.50 C413.93 384.48 416.22 385.22 417.80 385.30 C419.38 385.38 420.53 385.62 421.50 385.00 C422.47 384.38 422.88 383.73 423.60 381.60 C424.32 379.47 425.07 376.43 425.80 372.20 C426.53 367.97 427.27 361.42 428.00 356.20 C428.73 350.98 429.47 344.48 430.20 340.90 C430.93 337.32 431.75 335.55 432.40 334.70 C433.05 333.85 433.38 334.03 434.10 335.80 C434.82 337.57 435.78 341.67 436.70 345.30 C437.62 348.93 438.63 353.97 439.60 357.60 C440.57 361.23 441.40 364.30 442.50 367.10 C443.60 369.90 444.73 372.58 446.20 374.40 C447.67 376.22 449.00 376.88 451.30 378.00 C453.60 379.12 457.33 380.35 460.00 381.10 C462.67 381.85 464.88 382.08 467.30 382.50 C469.72 382.92 472.08 383.43 474.50 383.60 C476.92 383.77 479.37 383.38 481.80 383.50 C484.23 383.62 486.67 384.23 489.10 384.30 C491.53 384.37 493.98 383.77 496.40 383.90 C498.82 384.03 501.18 384.98 503.60 385.10 C506.02 385.22 508.23 384.80 510.90 384.60 C513.57 384.40 516.68 384.13 519.60 383.90 C522.52 383.67 526.08 383.63 528.40 383.20 C530.72 382.77 532.05 381.42 533.50 381.30 C534.95 381.18 536.13 382.12 537.10 382.50 C538.07 382.88 538.93 383.42 539.30 383.60"/>
<line x1="38.90" y1="415.50" x2="38.90" y2="476.20" class="ax"/>
<line x1="38.40" y1="474.40" x2="278.00" y2="474.40" class="ax"/>
<line x1="36.50" y1="474.40" x2="38.90" y2="474.40" class="tk"/>
<line x1="36.50" y1="468.55" x2="38.90" y2="468.55" class="tk"/>
<line x1="36.50" y1="462.70" x2="38.90" y2="462.70" class="tk"/>
<line x1="36.50" y1="456.85" x2="38.90" y2="456.85" class="tk"/>
<line x1="36.50" y1="451.00" x2="38.90" y2="451.00" class="tk"/>
<line x1="36.50" y1="445.15" x2="38.90" y2="445.15" class="tk"/>
<line x1="36.50" y1="439.30" x2="38.90" y2="439.30" class="tk"/>
<line x1="36.50" y1="433.45" x2="38.90" y2="433.45" class="tk"/>
<line x1="36.50" y1="427.60" x2="38.90" y2="427.60" class="tk"/>
<line x1="36.50" y1="421.75" x2="38.90" y2="421.75" class="tk"/>
<line x1="36.50" y1="415.90" x2="38.90" y2="415.90" class="tk"/>
<line x1="62.78" y1="474.40" x2="62.78" y2="476.80" class="tk"/>
<line x1="86.66" y1="474.40" x2="86.66" y2="476.80" class="tk"/>
<line x1="110.54" y1="474.40" x2="110.54" y2="476.80" class="tk"/>
<line x1="134.42" y1="474.40" x2="134.42" y2="476.80" class="tk"/>
<line x1="158.30" y1="474.40" x2="158.30" y2="476.80" class="tk"/>
<line x1="182.18" y1="474.40" x2="182.18" y2="476.80" class="tk"/>
<line x1="206.06" y1="474.40" x2="206.06" y2="476.80" class="tk"/>
<line x1="229.94" y1="474.40" x2="229.94" y2="476.80" class="tk"/>
<line x1="253.82" y1="474.40" x2="253.82" y2="476.80" class="tk"/>
<line x1="277.70" y1="474.40" x2="277.70" y2="476.80" class="tk"/>
<line x1="170.90" y1="474.40" x2="170.90" y2="476.80" class="tk"/>
<text x="36.10" y="419.20" class="tl" text-anchor="end" transform="rotate(0.03 36.10 419.20)">1.0</text>
<text x="36.10" y="447.35" class="tl" text-anchor="end" transform="rotate(0.03 36.10 447.35)">0.5</text>
<text x="41.90" y="418.80" class="ex xm" transform="rotate(0.03 41.90 418.80)">&#215;</text>
<text x="44.30" y="419.50" class="ex" transform="rotate(0.03 44.30 419.50)">10<tspan class="sup" dy="-1.8">2</tspan></text>
<text x="39.00" y="483.50" class="tl" transform="rotate(0.03 39.00 483.50)">4.00</text>
<text x="169.50" y="483.50" class="tl" text-anchor="middle" transform="rotate(0.03 169.50 483.50)">4.54</text>
<text x="277.70" y="483.50" class="tl" text-anchor="end" transform="rotate(0.03 277.70 483.50)">5.00</text>
<text x="53.3" y="433.50" class="pl" transform="rotate(0.03 53.30 433.50)">(f) Meclizine</text>
<line x1="300.40" y1="415.50" x2="300.40" y2="476.20" class="ax"/>
<line x1="299.90" y1="474.40" x2="539.50" y2="474.40" class="ax"/>
<line x1="298.00" y1="474.40" x2="300.40" y2="474.40" class="tk"/>
<line x1="298.00" y1="468.55" x2="300.40" y2="468.55" class="tk"/>
<line x1="298.00" y1="462.70" x2="300.40" y2="462.70" class="tk"/>
<line x1="298.00" y1="456.85" x2="300.40" y2="456.85" class="tk"/>
<line x1="298.00" y1="451.00" x2="300.40" y2="451.00" class="tk"/>
<line x1="298.00" y1="445.15" x2="300.40" y2="445.15" class="tk"/>
<line x1="298.00" y1="439.30" x2="300.40" y2="439.30" class="tk"/>
<line x1="298.00" y1="433.45" x2="300.40" y2="433.45" class="tk"/>
<line x1="298.00" y1="427.60" x2="300.40" y2="427.60" class="tk"/>
<line x1="298.00" y1="421.75" x2="300.40" y2="421.75" class="tk"/>
<line x1="298.00" y1="415.90" x2="300.40" y2="415.90" class="tk"/>
<line x1="324.28" y1="474.40" x2="324.28" y2="476.80" class="tk"/>
<line x1="348.16" y1="474.40" x2="348.16" y2="476.80" class="tk"/>
<line x1="372.04" y1="474.40" x2="372.04" y2="476.80" class="tk"/>
<line x1="395.92" y1="474.40" x2="395.92" y2="476.80" class="tk"/>
<line x1="419.80" y1="474.40" x2="419.80" y2="476.80" class="tk"/>
<line x1="443.68" y1="474.40" x2="443.68" y2="476.80" class="tk"/>
<line x1="467.56" y1="474.40" x2="467.56" y2="476.80" class="tk"/>
<line x1="491.44" y1="474.40" x2="491.44" y2="476.80" class="tk"/>
<line x1="515.32" y1="474.40" x2="515.32" y2="476.80" class="tk"/>
<line x1="539.20" y1="474.40" x2="539.20" y2="476.80" class="tk"/>
<line x1="432.40" y1="474.40" x2="432.40" y2="476.80" class="tk"/>
<text x="297.60" y="419.20" class="tl" text-anchor="end" transform="rotate(0.03 297.60 419.20)">1.0</text>
<text x="297.60" y="447.35" class="tl" text-anchor="end" transform="rotate(0.03 297.60 447.35)">0.5</text>
<text x="303.40" y="418.80" class="ex xm" transform="rotate(0.03 303.40 418.80)">&#215;</text>
<text x="305.80" y="419.50" class="ex" transform="rotate(0.03 305.80 419.50)">10<tspan class="sup" dy="-1.8">2</tspan></text>
<text x="300.50" y="483.50" class="tl" transform="rotate(0.03 300.50 483.50)">4.00</text>
<text x="431.00" y="483.50" class="tl" text-anchor="middle" transform="rotate(0.03 431.00 483.50)">4.54</text>
<text x="539.20" y="483.50" class="tl" text-anchor="end" transform="rotate(0.03 539.20 483.50)">5.00</text>
<path class="sgl" d="M39.50 468.40 C41.67 468.55 47.90 469.15 52.50 469.30 C57.10 469.45 63.70 469.38 67.10 469.30 C70.50 469.22 70.48 468.77 72.90 468.80 C75.32 468.83 77.72 469.38 81.60 469.50 C85.48 469.62 92.32 469.50 96.20 469.50 C100.08 469.50 102.72 469.68 104.90 469.50 C107.08 469.32 107.85 468.43 109.30 468.40 C110.75 468.37 112.15 469.10 113.60 469.30 C115.05 469.50 113.63 469.57 118.00 469.60 C122.37 469.63 132.53 469.43 139.80 469.50 C147.07 469.57 154.32 469.95 161.60 470.00 C168.88 470.05 177.43 469.95 183.50 469.80 C189.57 469.65 193.17 469.15 198.00 469.10 C202.83 469.05 207.65 469.35 212.50 469.50 C217.35 469.65 222.73 470.03 227.10 470.00 C231.47 469.97 234.58 469.45 238.70 469.30 C242.82 469.15 248.88 469.35 251.80 469.10 C254.72 468.85 254.38 468.40 256.20 467.80 C258.02 467.20 260.52 465.40 262.70 465.50 C264.88 465.60 267.00 467.73 269.30 468.40 C271.60 469.07 275.30 469.32 276.50 469.50"/>
<path class="sg" d="M300.50 468.40 C302.83 468.40 309.73 468.40 314.50 468.40 C319.27 468.40 324.25 468.40 329.10 468.40 C333.95 468.40 339.23 468.45 343.60 468.40 C347.97 468.35 352.63 468.47 355.30 468.10 C357.97 467.73 358.03 466.80 359.60 466.20 C361.17 465.60 363.00 464.60 364.70 464.50 C366.40 464.40 368.22 465.25 369.80 465.60 C371.38 465.95 372.50 466.32 374.20 466.60 C375.90 466.88 377.58 467.08 380.00 467.30 C382.42 467.52 385.07 467.75 388.70 467.90 C392.33 468.05 396.70 468.15 401.80 468.20 C406.90 468.25 415.90 468.57 419.30 468.20 C422.70 467.83 421.35 467.45 422.20 466.00 C423.05 464.55 423.68 462.77 424.40 459.50 C425.12 456.23 425.78 451.25 426.50 446.40 C427.22 441.55 427.97 435.50 428.70 430.40 C429.43 425.30 430.17 419.10 430.90 415.80 C431.63 412.50 432.42 410.97 433.10 410.60 C433.78 410.23 434.27 411.28 435.00 413.60 C435.73 415.92 436.60 420.25 437.50 424.50 C438.40 428.75 439.43 434.85 440.40 439.10 C441.37 443.35 442.22 446.97 443.30 450.00 C444.38 453.03 445.33 455.23 446.90 457.30 C448.47 459.37 450.52 461.15 452.70 462.40 C454.88 463.65 457.12 464.12 460.00 464.80 C462.88 465.48 466.67 466.07 470.00 466.50 C473.33 466.93 476.67 467.18 480.00 467.40 C483.33 467.62 486.67 467.70 490.00 467.80 C493.33 467.90 496.67 467.95 500.00 468.00 C503.33 468.05 506.67 468.08 510.00 468.10 C513.33 468.12 516.67 468.12 520.00 468.10 C523.33 468.08 526.83 468.03 530.00 468.00 C533.17 467.97 537.50 467.92 539.00 467.90"/>
</svg>
</body></html>
